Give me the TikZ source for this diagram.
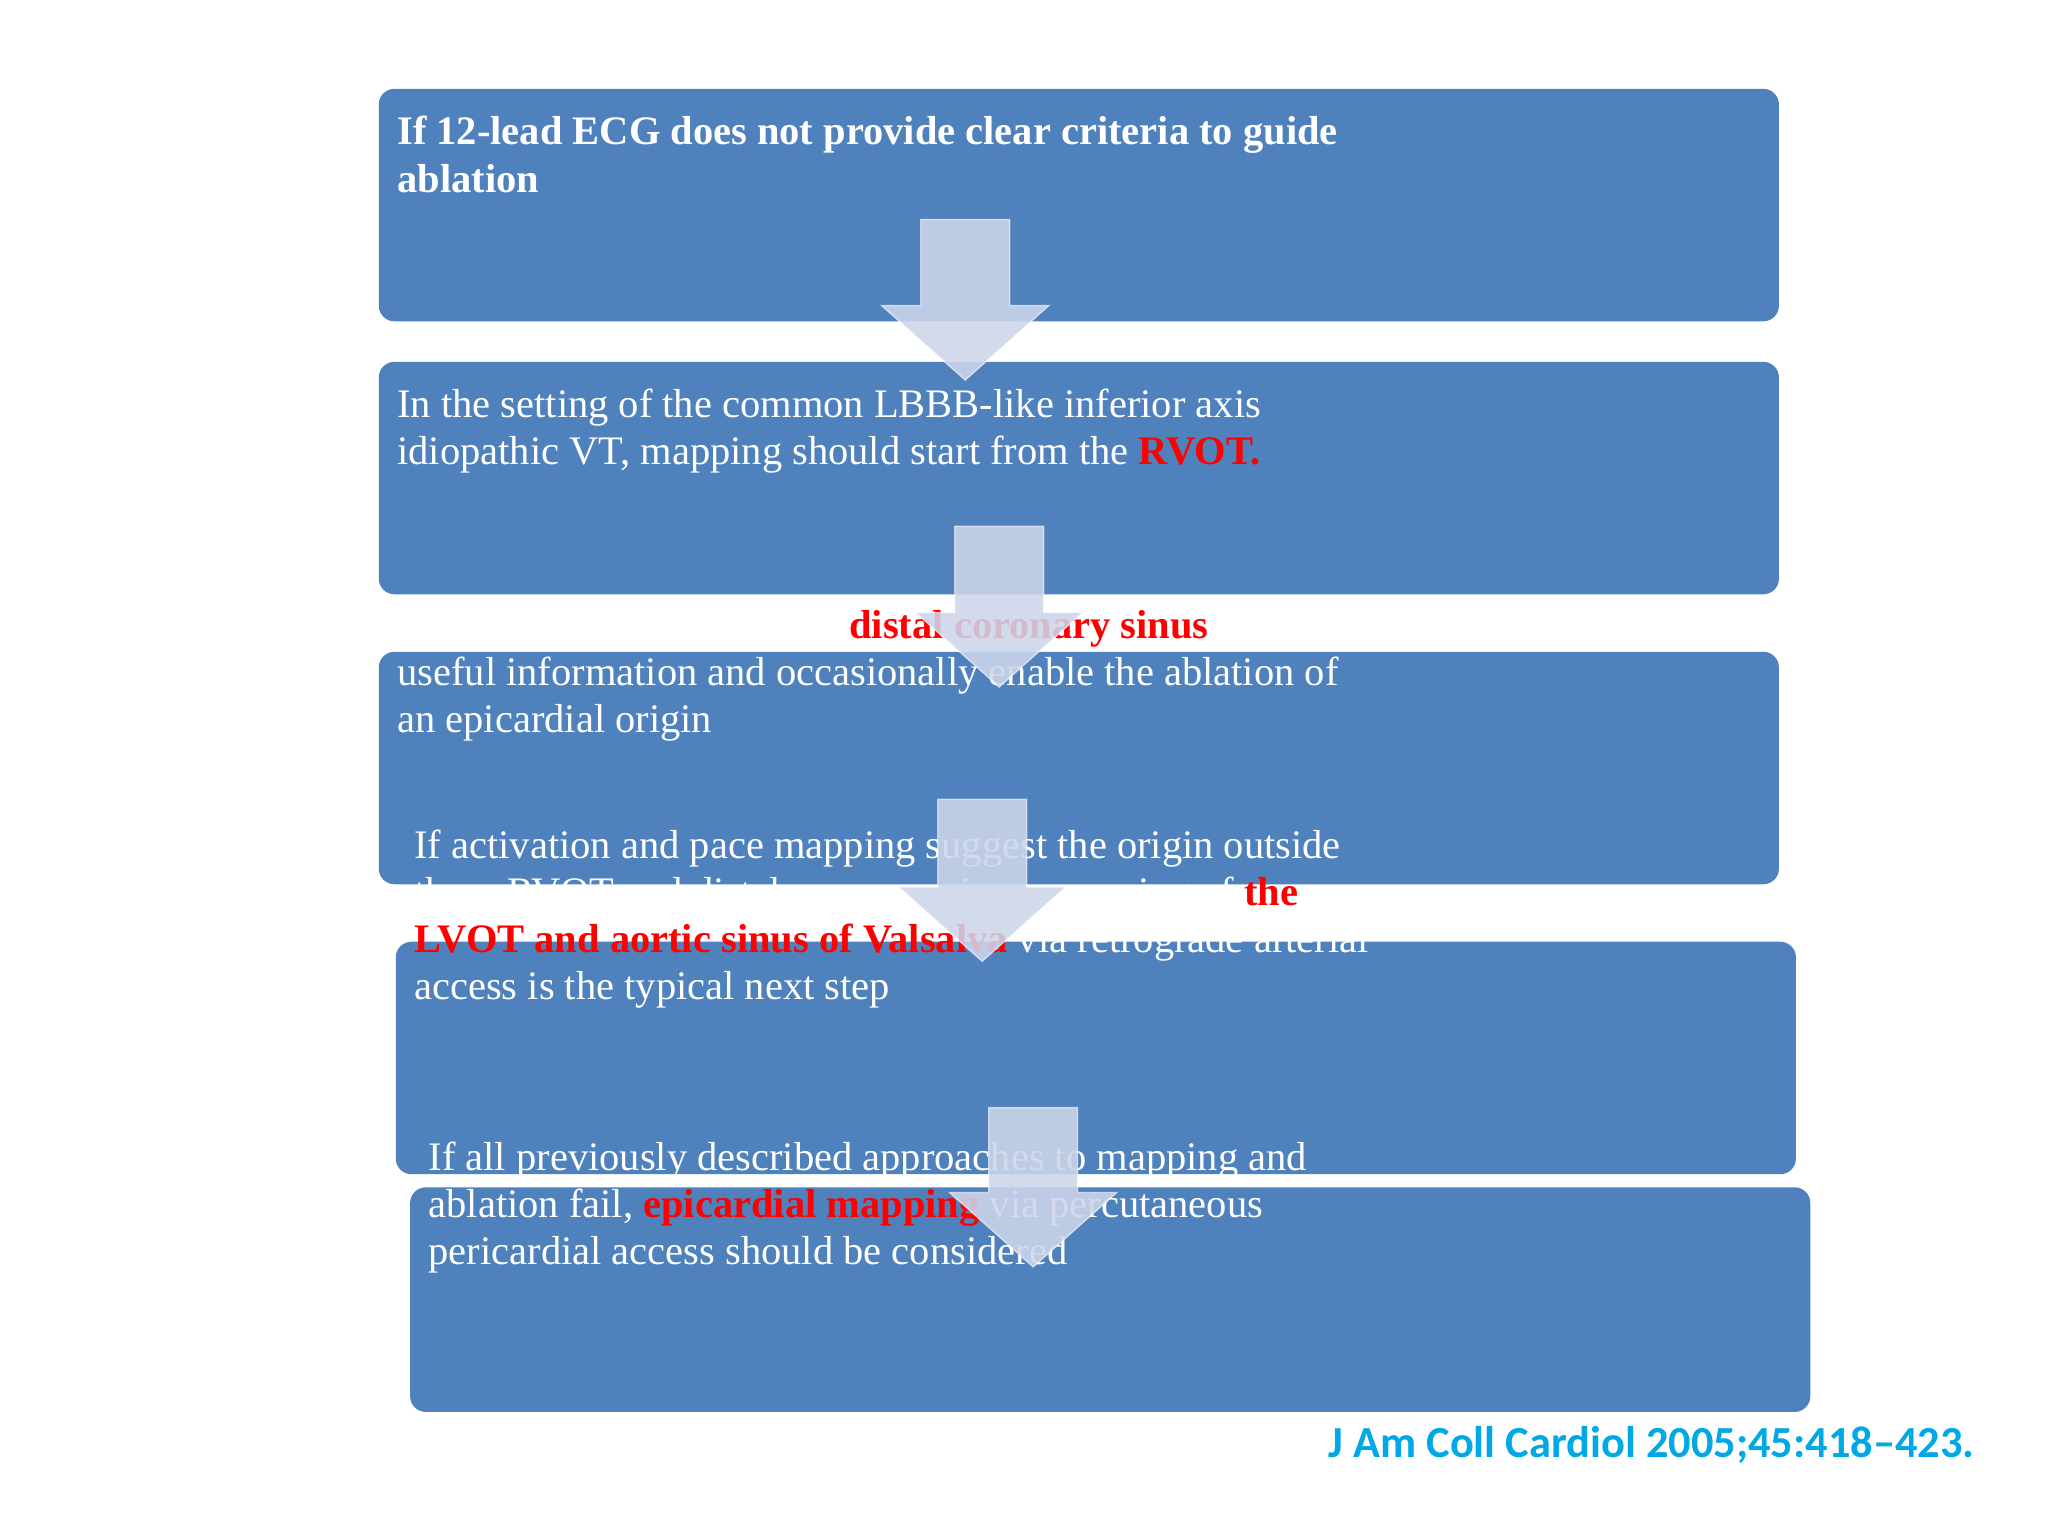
\documentclass[tikz,border=0pt]{standalone}
\usepackage{fontspec}
\setmainfont{Liberation Serif}
\newfontfamily\citefont{Carlito}
\definecolor{boxblue}{RGB}{79,129,189}
\definecolor{arrowfill}{RGB}{205,214,234}
\definecolor{redt}{RGB}{255,0,0}
\definecolor{citec}{RGB}{0,168,230}
\newcommand{\rd}[1]{\textbf{\textcolor{redt}{#1}}}
\tikzset{
 box/.style={fill=boxblue,draw=none,rounded corners=12pt},
 txt/.style={anchor=base west,align=left,text=white,font=\fontsize{31}{36}\selectfont,inner sep=0pt},
 darrow/.style={fill=arrowfill,fill opacity=0.88,draw=white,draw opacity=0.6,line width=1pt}
}
\newcommand{\bigdownarr}[4]{% cx, top, headtop, tip
 \path[darrow] (#1-34,#2) -- (#1+34,#2) -- (#1+34,#3) -- (#1+64,#3) -- (#1,#4) -- (#1-64,#3) -- (#1-34,#3) -- cycle;}
\begin{document}
\begin{tikzpicture}[x=1pt,y=-1pt]
\useasboundingbox (0,0) rectangle (1568,1176);
\fill[white] (0,0) rectangle (1568,1176);
\path[box] (290,68) rectangle (1362,246);
\path[box] (290,277) rectangle (1362,455);
\path[box] (290,499) rectangle (1362,677);
\path[box] (303,721) rectangle (1375,899);
\path[box] (314,909) rectangle (1386,1081);
\node[txt,font=\fontsize{31}{36}\selectfont\bfseries] (t1) at (304,147) {If 12-lead ECG does not provide clear criteria to guide\\ablation};
\node[txt] (t2) at (304,356) {In the setting of the common LBBB-like inferior axis\\idiopathic VT, mapping should start from the \rd{RVOT.}};
\node[txt] (t3) at (304,561) {Subsequent mapping of the \rd{distal coronary sinus} can add\\useful information and occasionally enable the ablation of\\an epicardial origin};
\node[txt] (t4) at (317,765) {If activation and pace mapping suggest the origin outside\\these RVOT and distal coronary sinus, mapping of \rd{the}\\\rd{LVOT and aortic sinus of Valsalva} via retrograde arterial\\access is the typical next step};
\node[txt] (t5) at (328,968) {If all previously described approaches to mapping and\\ablation fail, \rd{epicardial mapping} via percutaneous\\pericardial access should be considered};
\bigdownarr{739}{168}{234}{291}
\bigdownarr{765}{403}{469}{526}
\bigdownarr{752}{612}{679}{736}
\bigdownarr{791}{848}{913}{970}
\node[anchor=base east,inner sep=0pt,text=citec,font=\citefont\bfseries\fontsize{34}{40}\selectfont] (cite) at (1512,1116) {J Am Coll Cardiol 2005;45:418–423.};
\end{tikzpicture}
\end{document}
